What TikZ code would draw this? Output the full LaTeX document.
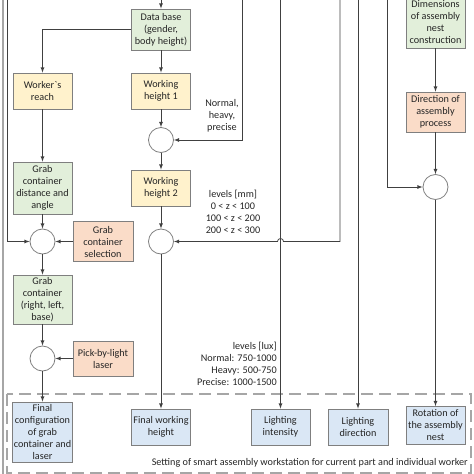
\documentclass[tikz,border=0pt]{standalone}
\usepackage{fontspec}
\setmainfont{Carlito}
\usetikzlibrary{arrows,calc,positioning}
\definecolor{dbgreen}{HTML}{E2EFDA}
\definecolor{stepyellow}{HTML}{FFF2CC}
\definecolor{choiceorange}{HTML}{FADCC8}
\definecolor{finalblue}{HTML}{DAE7F5}
\definecolor{boxgray}{HTML}{7F7F7F}
\definecolor{linegray}{HTML}{404040}
\definecolor{txtgray}{HTML}{262626}
\definecolor{framegray}{HTML}{A6A6A6}
\tikzset{
        block/.style = {draw=boxgray, rectangle, line width=0.8pt,
            align=center, inner sep=1pt, text=txtgray,
            font=\fontsize{10.2}{12}\selectfont,
            minimum width=59pt, minimum height=36pt},
        datablock/.style = {block, fill=dbgreen},
        stepblock/.style = {block, fill=stepyellow},
        choiceblock/.style = {block, fill=choiceorange},
        finalblock/.style = {block, fill=finalblue},
        sum/.style = {draw=boxgray, circle, line width=0.8pt, fill=white,
            minimum size=25pt, inner sep=0pt},
        arrow/.style = {draw=linegray, line width=0.8pt, -latex},
        note/.style = {align=center, inner sep=0pt, text=txtgray,
            font=\fontsize{10.2}{12}\selectfont},
        frame/.style = {draw=framegray, line width=1.5pt, dash pattern=on 12pt off 6pt},
    }

\begin{document}
\begin{tikzpicture}[x=1pt,y=1pt,yscale=-1,xscale=1]
    \useasboundingbox (0,0) rectangle (474,474);
    \clip (0,0) rectangle (474,474);

    % outer edge and settings frame
    \draw [line width=2pt, framegray] (3,0) -- (3,474);
    \draw [frame] (7,394) rectangle (471,473);

    % Left column
    \node [stepblock] (reach) at (42.5,91) {Worker\textasciigrave s\\reach};
    \node [datablock, minimum height=52pt] (gcd) at (42.5,188) {Grab\\container\\distance and\\angle};
    \node [sum] (sL1) at (42.5,241.5) {};
    \node [choiceblock, minimum width=60pt, minimum height=40pt] (gcs) at (103,241.5) {Grab\\container\\selection};
    \node [datablock, minimum height=49pt] (gc) at (42.5,299.5) {Grab\\container\\(right, left,\\base)};
    \node [sum] (sL2) at (42.5,358.5) {};
    \node [choiceblock, minimum width=60pt, minimum height=35pt] (pbl) at (103,358.5) {Pick-by-light\\laser};
    \node [finalblock, minimum height=60pt] (fcfg) at (42.5,432) {Final\\configuration\\of grab\\container and\\laser};

    % Middle column
    \node [datablock, minimum height=41pt] (db) at (161,29.5) {Data base\\(gender,\\body height)};
    \node [stepblock] (wh1) at (161,91) {Working\\height 1};
    \node [sum] (s1) at (161,140) {};
    \node [stepblock] (wh2) at (161,188) {Working\\height 2};
    \node [sum] (s2) at (161,241.5) {};
    \node [finalblock] (fwh) at (161,427) {Final working\\height};

    % Right part
    \node [datablock, minimum height=52pt] (dim) at (435.5,22) {Dimensions\\of assembly\\nest\\construction};
    \node [choiceblock, minimum height=40pt] (dir) at (435.5,112) {Direction of\\assembly\\process};
    \node [sum] (sR) at (435.5,187) {};
    \node [finalblock] (li) at (280.5,427) {Lighting\\intensity};
    \node [finalblock, minimum width=60pt] (ld) at (358,427) {Lighting\\direction};
    \node [finalblock, minimum height=38pt] (rot) at (435.5,425.5) {Rotation of\\the assembly\\nest};

    % Text Node
    \node [note] (loadtxt) at (222,116) {Normal,\\heavy,\\precise};
    % Text Node
    \node [note] (mmtxt) at (233,212) {levels [mm]\\0 < z < 100\\100 < z < 200\\200 < z < 300};
    % Text Node
    \node [note, align=right, anchor=east] (luxtxt) at (277,364) {levels [lux]\\Normal: 750-1000\\Heavy: 500-750\\Precise: 1000-1500};
    % Text Node
    \node [note, anchor=east] (settxt) at (468,463) {Setting of smart assembly workstation for current part and individual worker};

    % inputs coming from above
    \coordinate (dbin) at (161,0);
    \coordinate (leftin) at (7,0);
    \coordinate (loadin) at (242,0);
    \coordinate (luxin) at (280.5,0);
    \coordinate (mmin) at (340,0);
    \coordinate (lightin) at (358,0);
    \coordinate (nestin) at (387,0);

    \draw [arrow] (dbin) -- (db);
    \draw [arrow] (db.west) -| (reach.north);
    \draw [arrow] (db) -- (wh1);
    \draw [arrow] (wh1) -- (s1);
    \draw [arrow] (loadin) |- (s1);
    \draw [arrow] (s1) -- (wh2);
    \draw [arrow] (wh2) -- (s2);
    \draw [arrow] (mmin) -- (mmin |- s2) -- ($(luxin |- s2)+(3,0)$) arc [start angle=0, end angle=-180, radius=3] -- (s2);
    \draw [arrow] (s2) -- (fwh);
    \draw [arrow] (luxin) -- (li);
    \draw [arrow] (lightin) -- (ld);
    \draw [arrow] (dim) -- (dir);
    \draw [arrow] (dir) -- (sR);
    \draw [arrow] (nestin) |- (sR);
    \draw [arrow] (sR) -- (rot);

    \draw [arrow] (reach) -- (gcd);
    \draw [arrow] (gcd) -- (sL1);
    \draw [arrow] (leftin) |- (sL1);
    \draw [arrow] (gcs) -- (sL1);
    \draw [arrow] (sL1) -- (gc);
    \draw [arrow] (gc) -- (sL2);
    \draw [arrow] (pbl) -- (sL2);
    \draw [arrow] (sL2) -- (fcfg);
\end{tikzpicture}
\end{document}
